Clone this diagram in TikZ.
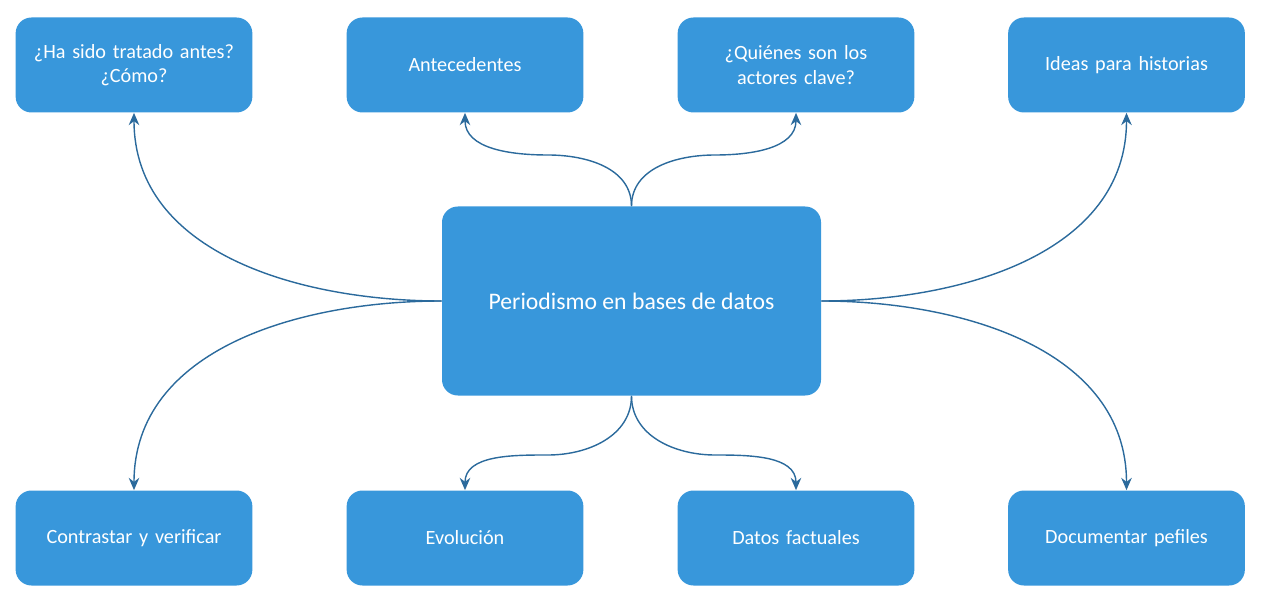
\documentclass[tikz,border=0pt]{standalone}
\usepackage{fontspec}
\setmainfont{Carlito}
\usetikzlibrary{arrows.meta,positioning}
\definecolor{boxblue}{HTML}{3897DB}
\definecolor{linkblue}{HTML}{2B6A9C}
\tikzset{>={Stealth[length=7pt,width=6pt]}, font=\fontsize{11.5}{14}\selectfont}
\tikzstyle{topic} = [fill=boxblue, rounded corners=9pt, text=white, minimum width=4.72cm, minimum height=1.9cm, text width=4.5cm, align=center]
\tikzstyle{main} = [fill=boxblue, rounded corners=9pt, text=white, minimum width=7.58cm, minimum height=3.78cm, font=\fontsize{13.5}{16}\selectfont]
\tikzstyle{link} = [draw=linkblue, line width=0.8pt, ->]
\tikzstyle{turn} = [coordinate]
\begin{document}
\begin{tikzpicture}
		\useasboundingbox (0,0) rectangle (25.34,12.06);
		\node [main] (center) at (12.63,6.04) {Periodismo en bases de datos};

		\node [topic] (tratado) at (2.68,10.76) {¿Ha sido tratado antes?\\¿Cómo?};
		\node [topic] (antec) at (9.30,10.76) {Antecedentes};
		\node [topic] (actores) at (15.92,10.76) {¿Quiénes son los\\actores clave?};
		\node [topic] (ideas) at (22.53,10.76) {Ideas para historias};
		\node [topic] (contrastar) at (2.68,1.30) {Contrastar y verificar};
		\node [topic] (evol) at (9.30,1.30) {Evolución};
		\node [topic] (datos) at (15.92,1.30) {Datos factuales};
		\node [topic] (docu) at (22.53,1.30) {Documentar pefiles};

		\node [turn] (up_l) at (10.96,8.96) {};
		\node [turn] (up_r) at (14.30,8.96) {};
		\node [turn] (dn_l) at (10.96,2.96) {};
		\node [turn] (dn_r) at (14.30,2.96) {};

		\draw [link] (center.west) to[out=180,in=-90] (tratado.south);
		\draw [link] (center.west) to[out=180,in=90] (contrastar.north);
		\draw [link] (center.east) to[out=0,in=-90] (ideas.south);
		\draw [link] (center.east) to[out=0,in=90] (docu.north);

		\draw [link] (center.north) to[out=90,in=0] (up_l) to[out=180,in=-90] (antec.south);
		\draw [link] (center.north) to[out=90,in=180] (up_r) to[out=0,in=-90] (actores.south);
		\draw [link] (center.south) to[out=-90,in=0] (dn_l) to[out=180,in=90] (evol.north);
		\draw [link] (center.south) to[out=-90,in=180] (dn_r) to[out=0,in=90] (datos.north);
	\end{tikzpicture}
\end{document}
